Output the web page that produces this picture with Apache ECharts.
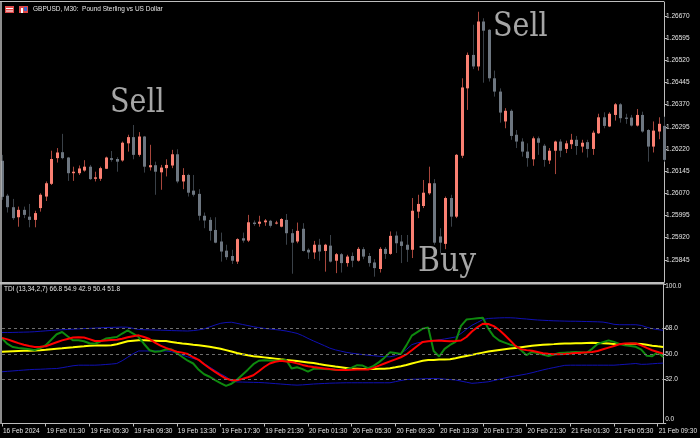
<!DOCTYPE html>
<html>
<head>
<meta charset="utf-8">
<script src="https://cdn.jsdelivr.net/npm/echarts@6/dist/echarts.min.js"></script>
<style>html,body{margin:0;padding:0;background:#000;}#c{width:700px;height:438px;}</style>
</head>
<body>
<div id="c"></div>
<script>
// ---- price data (GBPUSD M30) ----
const opens = [1.26180,1.26062,1.26023,1.25989,1.26014,1.25991,1.25980,1.26020,1.26059,1.26102,
1.26189,1.26209,1.26191,1.26138,1.26138,1.26147,1.26160,1.26119,1.26119,1.26153,
1.26189,1.26186,1.26181,1.26239,1.26260,1.26200,1.26262,1.26158,1.26165,1.26141,
1.26155,1.26164,1.26202,1.26110,1.26132,1.26079,1.26068,1.25994,1.25980,1.25946,
1.25907,1.25876,1.25858,1.25839,1.25918,1.25910,1.25971,1.25967,1.25972,1.25977,
1.25970,1.25957,1.25980,1.25935,1.25907,1.25950,1.25879,1.25870,1.25896,1.25875,
1.25893,1.25842,1.25864,1.25834,1.25858,1.25842,1.25881,1.25858,1.25836,1.25814,
1.25882,1.25865,1.25927,1.25907,1.25896,1.25879,1.26008,1.26027,1.26070,1.26104,
1.25924,1.25899,1.26054,1.25991,1.26197,1.26425,1.26538,1.26499,1.26651,1.26623,
1.26459,1.26414,1.26313,1.26349,1.26268,1.26245,1.26211,1.26185,1.26256,1.26231,
1.26181,1.26214,1.26245,1.26220,1.26236,1.26251,1.26228,1.26243,1.26220,1.26273,
1.26327,1.26296,1.26335,1.26371,1.26326,1.26326,1.26299,1.26335,1.26284,1.26228,
1.26279,1.26298];
const highs = [1.26200,1.26068,1.26051,1.26025,1.26025,1.26034,1.26011,1.26070,1.26110,1.26214,
1.26223,1.26271,1.26193,1.26160,1.26164,1.26182,1.26166,1.26143,1.26160,1.26194,
1.26213,1.26192,1.26245,1.26268,1.26301,1.26277,1.26264,1.26234,1.26177,1.26166,
1.26185,1.26217,1.26219,1.26155,1.26136,1.26132,1.26084,1.26005,1.25989,1.25989,
1.25937,1.25896,1.25879,1.25918,1.25937,1.25997,1.25978,1.25994,1.25983,1.25980,
1.25977,1.25986,1.26000,1.25949,1.25971,1.25969,1.25884,1.25909,1.25916,1.25899,
1.25929,1.25868,1.25868,1.25862,1.25870,1.25888,1.25888,1.25868,1.25847,1.25888,
1.25888,1.25941,1.25941,1.25929,1.25929,1.26054,1.26065,1.26115,1.26160,1.26118,
1.25952,1.26059,1.26065,1.26203,1.26459,1.26546,1.26640,1.26684,1.26662,1.26625,
1.26485,1.26425,1.26358,1.26354,1.26284,1.26256,1.26239,1.26262,1.26262,1.26237,
1.26223,1.26248,1.26253,1.26248,1.26271,1.26264,1.26251,1.26251,1.26282,1.26339,
1.26344,1.26344,1.26375,1.26375,1.26339,1.26335,1.26355,1.26346,1.26287,1.26313,
1.26327,1.26329];
const lows = [1.26048,1.26005,1.25980,1.25957,1.25986,1.25955,1.25955,1.26008,1.26044,1.26098,
1.26174,1.26185,1.26112,1.26112,1.26132,1.26143,1.26115,1.26110,1.26112,1.26152,
1.26177,1.26143,1.26177,1.26211,1.26185,1.26194,1.26140,1.26147,1.26065,1.26082,
1.26127,1.26155,1.26104,1.26084,1.26059,1.26059,1.25978,1.25952,1.25910,1.25901,
1.25839,1.25845,1.25831,1.25831,1.25903,1.25905,1.25960,1.25957,1.25960,1.25954,
1.25965,1.25955,1.25896,1.25798,1.25901,1.25873,1.25848,1.25848,1.25842,1.25805,
1.25836,1.25800,1.25802,1.25822,1.25820,1.25839,1.25847,1.25822,1.25788,1.25802,
1.25848,1.25862,1.25868,1.25834,1.25838,1.25851,1.25986,1.26020,1.26065,1.25896,
1.25868,1.25881,1.25957,1.25986,1.26189,1.26352,1.26490,1.26485,1.26444,1.26448,
1.26397,1.26309,1.26290,1.26251,1.26223,1.26194,1.26160,1.26163,1.26200,1.26160,
1.26169,1.26135,1.26192,1.26206,1.26220,1.26200,1.26208,1.26191,1.26200,1.26271,
1.26290,1.26294,1.26316,1.26309,1.26305,1.26296,1.26296,1.26275,1.26177,1.26208,
1.26253,1.26177];
const closes = [1.26058,1.26023,1.25986,1.26014,1.25997,1.25980,1.26003,1.26065,1.26104,1.26186,
1.26208,1.26189,1.26138,1.26143,1.26154,1.26160,1.26118,1.26124,1.26155,1.26191,
1.26183,1.26177,1.26241,1.26260,1.26200,1.26262,1.26160,1.26165,1.26143,1.26157,
1.26166,1.26202,1.26110,1.26132,1.26072,1.26065,1.25994,1.25978,1.25943,1.25903,
1.25873,1.25854,1.25842,1.25915,1.25910,1.25972,1.25966,1.25974,1.25978,1.25960,
1.25971,1.25983,1.25935,1.25903,1.25943,1.25875,1.25870,1.25896,1.25873,1.25896,
1.25839,1.25864,1.25834,1.25856,1.25842,1.25882,1.25856,1.25834,1.25817,1.25882,
1.25865,1.25926,1.25901,1.25892,1.25879,1.26011,1.26034,1.26072,1.26104,1.25903,
1.25903,1.26054,1.25991,1.26200,1.26428,1.26538,1.26499,1.26651,1.26620,1.26459,
1.26414,1.26343,1.26349,1.26264,1.26245,1.26211,1.26189,1.26256,1.26241,1.26183,
1.26214,1.26245,1.26214,1.26239,1.26251,1.26230,1.26241,1.26220,1.26275,1.26327,
1.26298,1.26339,1.26371,1.26324,1.26322,1.26299,1.26335,1.26279,1.26228,1.26282,
1.26305,1.26183];

// ---- TDI (13,34,2,7) ----
const upperBand = [65.2,65.2,65.3,65.4,65.5,65.6,65.8,66.1,66.4,66.7,67.0,67.2,67.4,67.6,67.8,68.0,68.2,68.4,68.6,68.8,
68.9,69.0,69.1,69.0,68.2,67.4,67.2,67.1,67.0,66.9,66.8,66.6,66.5,66.4,66.3,66.6,67.1,67.8,69.2,70.6,
71.8,72.4,72.6,71.8,71.0,70.2,69.4,68.7,68.2,67.8,67.3,66.9,66.3,65.5,64.6,63.0,61.0,59.2,57.5,55.8,
54.0,52.8,51.9,51.0,50.4,49.9,49.4,49.0,48.6,48.2,47.9,47.8,48.6,50.2,53.0,56.5,57.8,58.5,59.0,59.4,
59.9,60.6,61.3,62.0,64.5,67.5,70.4,72.4,74.5,75.3,75.5,75.7,75.8,75.8,75.6,75.2,74.9,74.5,74.2,74.0,
73.8,73.6,73.5,73.4,73.3,73.3,73.2,73.1,73.0,72.9,72.7,72.0,71.1,70.8,70.8,70.8,70.8,70.3,69.0,68.0,
67.3,66.8];
const marketBase = [51.4,51.6,51.8,52.0,52.1,52.2,52.4,52.5,52.8,53.2,53.6,53.9,54.3,54.6,55.0,55.3,55.7,55.9,56.0,56.0,
56.1,56.8,57.9,58.9,59.3,59.6,59.6,59.5,59.4,59.2,59.1,58.5,57.9,57.4,57.0,56.5,56.1,55.6,55.0,54.3,
53.6,52.6,51.6,50.6,49.7,48.9,48.2,47.8,47.4,47.0,46.5,46.0,45.6,45.2,44.8,44.3,43.8,43.3,42.6,42.0,
41.4,40.8,40.3,39.8,39.3,39.2,39.1,39.1,39.1,39.2,39.3,39.6,40.3,41.1,42.0,43.0,44.0,45.0,45.5,45.6,
45.8,45.9,46.1,46.8,47.6,48.4,49.2,50.0,50.8,51.6,52.2,52.7,53.2,53.7,54.2,54.7,55.2,55.7,56.1,56.4,
56.7,56.9,57.2,57.3,57.4,57.5,57.6,57.7,57.8,57.7,57.6,57.3,57.0,56.9,57.0,57.1,57.2,57.0,56.4,55.8,
55.3,54.9];
const lowerBand = [37.1,37.4,37.7,38.0,38.3,38.6,38.8,38.9,39.1,39.3,39.4,40.0,40.7,41.4,41.8,41.8,41.8,41.8,42.0,42.3,
42.6,43.0,45.0,47.5,50.0,52.0,52.0,52.0,52.0,52.0,52.0,51.5,50.3,49.0,47.8,46.6,45.3,43.0,40.5,38.0,
35.6,33.5,30.5,29.8,29.7,29.6,29.5,29.4,29.2,28.9,28.6,28.3,28.0,27.7,27.5,27.7,28.0,28.3,28.5,28.7,
28.9,29.0,29.1,29.2,29.2,29.2,29.2,29.2,29.2,29.2,29.2,29.2,30.0,30.8,31.5,31.7,31.8,32.0,32.2,32.3,
32.1,31.8,31.5,31.2,30.4,29.6,28.8,29.1,29.5,29.9,30.8,31.7,32.6,33.5,34.1,34.8,35.5,36.4,37.4,38.4,
39.3,40.1,40.9,41.7,41.8,41.8,41.8,41.8,41.8,41.8,41.8,41.8,41.8,42.1,42.4,42.7,43.0,42.4,42.5,42.8,
43.1,43.3];
const rsiLine = [61.0,57.0,54.8,54.2,53.7,53.2,52.6,54.0,56.1,60.0,64.0,65.6,62.5,59.6,59.6,59.0,57.5,57.2,58.8,60.9,
61.4,62.0,64.5,66.7,64.5,62.0,57.0,52.5,51.5,51.8,53.0,53.2,50.5,47.7,45.0,43.0,38.5,35.3,33.5,31.1,
29.0,27.0,28.5,31.3,35.0,38.6,42.5,45.0,45.3,45.2,44.8,45.2,45.5,39.5,40.3,39.0,37.2,39.2,39.2,39.0,
38.8,38.6,38.4,38.6,40.0,41.8,41.5,39.6,41.3,44.0,47.2,51.0,50.5,49.8,56.0,63.0,65.5,68.0,68.8,52.0,
48.0,53.5,56.3,58.5,70.0,74.5,75.0,75.5,75.8,68.0,62.5,59.5,58.0,56.5,55.5,52.5,49.0,51.3,50.5,49.5,
48.3,49.5,50.5,50.8,51.0,51.3,51.0,50.7,53.5,57.0,58.3,59.6,58.5,57.0,56.0,55.5,55.0,53.0,48.5,48.2,
51.2,47.7];
const signalLine = [61.4,60.3,59.0,57.6,56.5,55.5,54.9,55.0,55.4,56.8,58.2,59.6,60.6,61.6,61.9,61.6,60.5,59.1,59.2,59.5,
59.8,60.0,60.8,61.8,62.6,63.2,62.0,60.6,58.0,55.8,54.2,52.8,51.5,50.8,49.8,47.5,45.6,42.5,39.6,37.0,
34.5,32.2,31.0,31.0,32.0,33.2,34.6,37.5,40.5,43.0,44.3,44.9,44.5,44.1,43.1,42.0,41.1,40.5,40.0,39.5,
39.0,38.6,38.4,38.3,38.6,38.7,38.7,38.7,39.9,41.5,43.0,44.5,46.0,47.5,49.5,52.5,55.6,58.5,59.0,59.3,
59.5,59.2,58.9,59.1,59.5,62.0,66.0,69.0,71.5,71.3,69.8,67.0,63.4,59.5,55.5,53.3,52.6,52.1,51.3,50.4,
50.0,49.7,49.7,49.9,50.2,50.6,50.8,51.0,51.3,52.0,53.2,54.4,55.6,56.8,57.3,57.3,57.3,56.0,54.2,52.5,
51.3,50.1];

// ---- axis ticks / labels ----
const priceTicks = [1.25845,1.25920,1.25995,1.26070,1.26145,1.26220,1.26295,1.26370,1.26445,1.26520,1.26595,1.26670];
const tdiTicks = [0, 32, 50, 68, 100];
const tdiLevels = [32, 50, 68];
const xTickLabels = ['16 Feb 2024','19 Feb 01:30','19 Feb 05:30','19 Feb 09:30','19 Feb 13:30','19 Feb 17:30',
'19 Feb 21:30','20 Feb 01:30','20 Feb 05:30','20 Feb 09:30','20 Feb 13:30','20 Feb 17:30','20 Feb 21:30',
'21 Feb 01:30','21 Feb 05:30','21 Feb 09:30'];
const tickEvery = 8;
const titleText = 'GBPUSD, M30:  Pound Sterling vs US Dollar';
const tdiText = 'TDI (13,34,2,7) 66.8 54.9 42.9 50.4 51.8';

// categories: one per bar (bar index)
const cats = opens.map((_, i) => String(i));
const candleData = opens.map((o, i) => [i, o, closes[i], lows[i], highs[i]]);

const bodyUp = '#fa8072', wickUp = '#a8463c';
const bodyDn = '#6d7680', wickDn = '#3a4148';
const txt = '#e6e6e6';
const smallFont = 'Liberation Sans';
const frame = '#bdbdbd';

const chart = echarts.init(document.getElementById('c'), null, {renderer: 'canvas'});

function renderCandle(params, api) {
  const i = api.value(0), o = api.value(1), c = api.value(2), l = api.value(3), h = api.value(4);
  const pO = api.coord([i, o]), pC = api.coord([i, c]);
  const pL = api.coord([i, l]), pH = api.coord([i, h]);
  const up = c >= o;
  const x = Math.round(pO[0]) + 0.5;
  const top = Math.min(pO[1], pC[1]), bot = Math.max(pO[1], pC[1]);
  return {
    type: 'group',
    children: [
      {type: 'line', shape: {x1: x, y1: pH[1], x2: x, y2: pL[1]},
       style: {stroke: up ? wickUp : wickDn, lineWidth: 1}},
      {type: 'rect', shape: {x: x - 1.5, y: top, width: 3, height: Math.max(bot - top, 1)},
       style: {fill: up ? bodyUp : bodyDn}}
    ]
  };
}

const lineSeries = (name, data, color, width) => ({
  name, type: 'line', xAxisIndex: 1, yAxisIndex: 1, data,
  showSymbol: false, symbol: 'none', smooth: false,
  lineStyle: {color, width}, silent: true, z: 3
});

const option = {
  backgroundColor: '#000000',
  animation: false,
  grid: [
    {left: 2, right: 36, top: 2, height: 280},
    {left: 2, right: 36, top: 284, height: 139.5}
  ],
  xAxis: [
    {type: 'category', gridIndex: 0, data: cats, boundaryGap: false, show: false},
    {type: 'category', gridIndex: 1, data: cats, boundaryGap: false,
     axisLine: {show: true, lineStyle: {color: frame, width: 1}},
     axisTick: {show: true, length: 3, interval: (idx) => idx % tickEvery === 0, lineStyle: {color: frame}},
     axisLabel: {show: true, interval: (idx) => idx % tickEvery === 0,
       formatter: (v, idx) => xTickLabels[Math.round(idx / tickEvery)] || '',
       align: 'left', color: txt, fontSize: 6.5, fontFamily: smallFont, margin: 4, padding: [0, 0, 0, 1]},
     splitLine: {show: false}}
  ],
  yAxis: [
    {type: 'value', gridIndex: 0, position: 'right', min: 1.25770, max: 1.26717, scale: true,
     axisLine: {show: true, lineStyle: {color: frame}},
     axisTick: {show: true, length: 3, customValues: priceTicks, lineStyle: {color: frame}},
     axisLabel: {show: true, customValues: priceTicks, formatter: (v) => v.toFixed(5),
       color: txt, fontSize: 6.5, fontFamily: smallFont, margin: 2},
     splitLine: {show: false}},
    {type: 'value', gridIndex: 1, position: 'right', min: 0, max: 100,
     axisLine: {show: true, lineStyle: {color: frame}},
     axisTick: {show: true, length: 3, customValues: tdiTicks, lineStyle: {color: frame}},
     axisLabel: {show: true, customValues: tdiTicks,
       formatter: (v) => v === 100 ? '{t|100.0}' : (v === 0 ? '{b|0.0}' : v.toFixed(1)),
       rich: {t: {padding: [5, 0, 0, 0], fontSize: 6.5, color: txt, fontFamily: smallFont},
              b: {padding: [0, 0, 8, 0], fontSize: 6.5, color: txt, fontFamily: smallFont}},
       color: txt, fontSize: 6.5, fontFamily: smallFont, margin: 2},
     splitLine: {show: false}}
  ],
  series: [
    {type: 'custom', name: 'GBPUSD', xAxisIndex: 0, yAxisIndex: 0, data: candleData,
     renderItem: renderCandle, encode: {x: 0, y: [1, 2, 3, 4]}, clip: false, silent: true},
    Object.assign(lineSeries('VB High', upperBand, '#1010b4', 1), {
      markLine: {silent: true, symbol: 'none', label: {show: false},
        lineStyle: {color: '#6e6e6e', type: [3, 3], width: 1},
        data: tdiLevels.map(v => ({yAxis: v}))}
    }),
    lineSeries('Market Base', marketBase, '#ffff00', 2),
    lineSeries('VB Low', lowerBand, '#1010b4', 1),
    lineSeries('RSI Price Line', rsiLine, '#0e8a0e', 2),
    lineSeries('Trade Signal Line', signalLine, '#ff0000', 2)
  ],
  graphic: [
    // frame
    {type: 'line', shape: {x1: 0, y1: 1.5, x2: 664, y2: 1.5}, style: {stroke: frame, lineWidth: 1}, z: 50},
    {type: 'line', shape: {x1: 1, y1: 1, x2: 1, y2: 424}, style: {stroke: frame, lineWidth: 1.5}, z: 50},
    {type: 'rect', shape: {x: 0, y: 282, width: 664.5, height: 2.5}, style: {fill: frame}, z: 50},
    // title icons
    {type: 'rect', shape: {x: 5, y: 6, width: 9, height: 7}, style: {fill: '#e04848'}, z: 50},
    {type: 'rect', shape: {x: 6, y: 8, width: 7, height: 1}, style: {fill: '#ffffff'}, z: 51},
    {type: 'rect', shape: {x: 6, y: 10.5, width: 7, height: 1}, style: {fill: '#ffffff'}, z: 51},
    {type: 'rect', shape: {x: 19, y: 6, width: 9, height: 7}, style: {fill: '#e04848'}, z: 50},
    {type: 'rect', shape: {x: 21, y: 8, width: 2, height: 5}, style: {fill: '#ffffff'}, z: 51},
    {type: 'rect', shape: {x: 24, y: 7, width: 3, height: 4}, style: {fill: '#3a66c8'}, z: 51},
    // texts
    {type: 'text', x: 33, y: 9.5, style: {text: titleText, fill: txt, font: '6.5px "Liberation Sans"',
      textAlign: 'left', textVerticalAlign: 'middle'}, z: 60},
    {type: 'text', x: 4, y: 289.7, style: {text: tdiText, fill: txt, font: '6.5px "Liberation Sans"',
      textAlign: 'left', textVerticalAlign: 'middle'}, z: 60},
    {type: 'text', x: 110, y: 103.5, scaleX: 0.84, style: {text: 'Sell', fill: '#a6a6a6',
      font: '34px "DejaVu Serif"', textAlign: 'left', textVerticalAlign: 'middle'}, z: 60},
    {type: 'text', x: 493, y: 27, scaleX: 0.84, style: {text: 'Sell', fill: '#a6a6a6',
      font: '34px "DejaVu Serif"', textAlign: 'left', textVerticalAlign: 'middle'}, z: 60},
    {type: 'text', x: 418, y: 262, scaleX: 0.88, style: {text: 'Buy', fill: '#a6a6a6',
      font: '34px "DejaVu Serif"', textAlign: 'left', textVerticalAlign: 'middle'}, z: 60}
  ]
};
chart.setOption(option);
</script>
</body>
</html>
